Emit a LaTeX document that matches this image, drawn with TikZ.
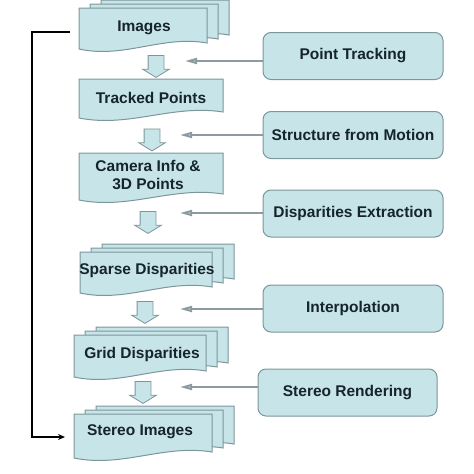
\documentclass[tikz,border=0pt]{standalone}
\usepackage{fontspec}
\setmainfont{Liberation Sans}
\usetikzlibrary{positioning, shapes, arrows.meta}
\definecolor{boxfill}{RGB}{199,228,233}
\definecolor{boxline}{RGB}{125,150,156}
\definecolor{thinline}{RGB}{140,155,160}
\definecolor{labeltext}{RGB}{22,36,44}

% one page with a wavy bottom: left, top, right, bottom (left end)
\newcommand{\docpage}[4]{%
  \filldraw[docshape] ({#1},{#2}) -- ({#3},{#2}) -- ({#3},{#4-6})
    .. controls ({#3-0.35*(#3-#1)},{#4-14}) and ({#1+0.35*(#3-#1)},{#4+10}) .. ({#1},{#4}) -- cycle;}
% three pages stacked
\newcommand{\docstack}[4]{%
  \begin{scope}[shift={(22,-8)}]\docpage{#1}{#2}{#3}{#4}\end{scope}
  \begin{scope}[shift={(11,-4)}]\docpage{#1}{#2}{#3}{#4}\end{scope}
  \docpage{#1}{#2}{#3}{#4}}

\begin{document}
\begin{tikzpicture}[x=1pt, y=-1pt,
    docshape/.style={fill=boxfill, draw=boxline, line width=1pt},
    doclabel/.style={text=labeltext, font=\bfseries\fontsize{15.5}{18.5}\selectfont, align=center, inner sep=0pt},
    stepbox/.style={rounded corners=8pt, fill=boxfill, draw=boxline, line width=1pt,
        minimum width=180pt, minimum height=47pt, doclabel},
    fatarrow/.style={single arrow, draw=boxline, fill=boxfill, line width=0.8pt, rotate=-90,
        minimum height=22pt, minimum width=0pt, single arrow head extend=5.5pt,
        single arrow tip angle=117, inner sep=0pt},
    feedline/.style={draw=thinline, line width=2pt, -{Triangle[length=12pt, width=6pt, fill=boxfill]}},
    backline/.style={draw=black, line width=1.6pt, -{Stealth[length=7pt, width=6pt]}}]
        \useasboundingbox (0,0) rectangle (474,474);

        % the data along the left column
        \docstack{79}{8}{207}{49}
        \docpage{79}{79}{223}{118}
        \docpage{79}{153}{223}{200}
        \docstack{80}{252}{212}{293}
        \docstack{74}{335}{206}{377}
        \docstack{74}{414}{212}{458}

        \node[doclabel] (img) at (144,28) {Images};
        \node[doclabel] (trk) at (151,98) {Tracked Points};
        \node[doclabel] (cam) at (148,175) {Camera Info \&\\3D Points};
        \node[doclabel] (spr) at (147,270) {Sparse Disparities};
        \node[doclabel] (grd) at (142,354) {Grid Disparities};
        \node[doclabel] (sto) at (140,432) {Stereo Images};

        % block arrows between the data
        \node[fatarrow] (a1) at (156,64) {\rule{0pt}{15pt}};
        \node[fatarrow] (a2) at (152,137.5) {\rule{0pt}{15pt}};
        \node[fatarrow] (a3) at (148,220) {\rule{0pt}{15pt}};
        \node[fatarrow] (a4) at (145,310) {\rule{0pt}{15pt}};
        \node[fatarrow] (a5) at (143,390) {\rule{0pt}{15pt}};

        % the steps on the right
        \node[stepbox] (ptk) at (353,56) {Point Tracking};
        \node[stepbox] (sfm) at (353,135) {Structure from Motion};
        \node[stepbox] (dex) at (353,213.5) {Disparities Extraction};
        \node[stepbox] (itp) at (353,308.5) {Interpolation};
        \node[stepbox, minimum width=179pt] (srd) at (347.5,392.5) {Stereo Rendering};

        \coordinate (t1) at (185,61);
        \coordinate (t2) at (180,135);
        \coordinate (t3) at (180,213);
        \coordinate (t4) at (180,309);
        \coordinate (t5) at (180,387);
        \draw[feedline] (ptk.west |- t1) -- (t1); % step arrows
        \draw[feedline] (sfm.west |- t2) -- (t2);
        \draw[feedline] (dex.west |- t3) -- (t3);
        \draw[feedline] (itp.west |- t4) -- (t4);
        \draw[feedline] (srd.west |- t5) -- (t5);

        % images go straight on to the stereo images
        \coordinate (imgleft) at (70,32);
        \coordinate (corner) at (32,32);
        \coordinate (stoleft) at (65,437);
        \draw[backline] (imgleft) -- (corner) |- (stoleft);
\end{tikzpicture}
\end{document}
